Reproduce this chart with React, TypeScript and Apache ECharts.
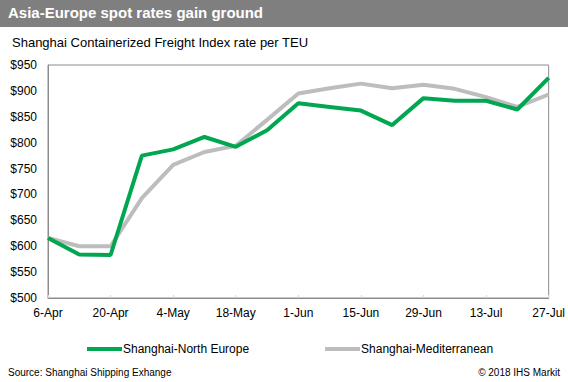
import React, { useEffect, useRef } from "react";
import * as echarts from "echarts";

const categories = [
  "6-Apr", "13-Apr", "20-Apr", "27-Apr", "4-May", "11-May", "18-May", "25-May",
  "1-Jun", "8-Jun", "15-Jun", "22-Jun", "29-Jun", "6-Jul", "13-Jul", "20-Jul", "27-Jul",
];
const northEurope = [616, 584, 583, 775, 787, 811, 792, 824, 876, 869, 862, 834, 886, 881, 881, 864, 925];
const mediterranean = [616, 600, 600, 693, 757, 782, 794, 844, 895, 905, 914, 905, 912, 904, 888, 869, 893];
const yTicks = { min: 500, max: 950, step: 50 };

const FONT = "Liberation Sans, Arial, sans-serif";

export default function App() {
  const ref = useRef<HTMLDivElement>(null);
  useEffect(() => {
    document.body.style.margin = "0";
    const chart = echarts.init(ref.current!, null, { renderer: "svg" });
    chart.setOption({
      animation: false,
      backgroundColor: "#ffffff",
      textStyle: { fontFamily: FONT },
      grid: {
        left: 48, right: 18, top: 65, bottom: 84,
        show: true, borderColor: "#8c8c8c", borderWidth: 1,
      },
      legend: {
        bottom: 22, left: 82, itemGap: 76, itemWidth: 35, itemHeight: 4,
        icon: "rect",
        textStyle: { fontFamily: FONT, fontSize: 12, color: "#000", padding: [0, 0, 0, -4] },
        data: ["Shanghai-North Europe", "Shanghai-Mediterranean"],
      },
      xAxis: {
        type: "category",
        data: categories,
        boundaryGap: false,
        axisLine: { lineStyle: { color: "#8c8c8c" } },
        axisTick: { show: true, interval: 1, inside: true, length: 3, lineStyle: { color: "#d9d9d9" } },
        axisLabel: { interval: 1, color: "#000", fontSize: 12, fontFamily: FONT, margin: 9 },
        splitLine: { show: false },
      },
      yAxis: {
        type: "value",
        min: yTicks.min, max: yTicks.max, interval: yTicks.step,
        axisLine: { show: true, lineStyle: { color: "#8c8c8c" } },
        axisTick: { show: false },
        splitLine: { show: false },
        axisLabel: { color: "#000", fontSize: 12, fontFamily: FONT, margin: 11, formatter: (v: number) => "$" + v },
      },
      series: [
        {
          name: "Shanghai-North Europe", type: "line", data: northEurope,
          symbol: "none", lineStyle: { color: "#00a650", width: 4 }, itemStyle: { color: "#00a650" },
          z: 3,
        },
        {
          name: "Shanghai-Mediterranean", type: "line", data: mediterranean,
          symbol: "none", lineStyle: { color: "#bdbdbd", width: 4 }, itemStyle: { color: "#bdbdbd" },
          z: 2,
        },
      ],
      graphic: [
        { type: "rect", left: 0, top: 0, shape: { width: 568, height: 27 }, style: { fill: "#7f7f7f" } },
        {
          type: "text", left: 8, top: 5,
          style: { text: "Asia-Europe spot rates gain ground", fill: "#fff", font: `bold 15px ${FONT}` },
        },
        {
          type: "text", left: 12, top: 36,
          style: { text: "Shanghai Containerized Freight Index rate per TEU", fill: "#000", font: `13px ${FONT}` },
        },
        {
          type: "text", left: 8, top: 367,
          style: { text: "Source: Shanghai Shipping Exhange", fill: "#000", font: `10px ${FONT}` },
        },
        {
          type: "text", right: 8, top: 367,
          style: { text: "© 2018 IHS Markit", fill: "#000", font: `10px ${FONT}` },
        },
      ],
    });
    return () => chart.dispose();
  }, []);
  return <div ref={ref} style={{ width: 568, height: 382 }} />;
}
